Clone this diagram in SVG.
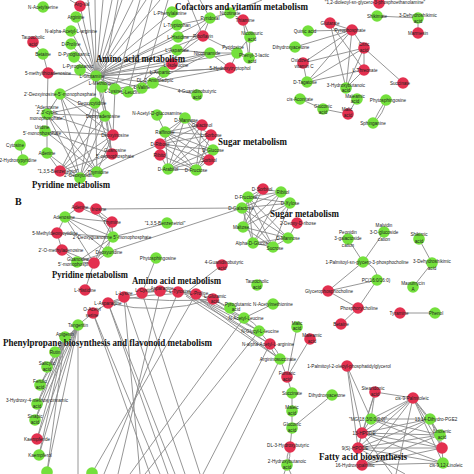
<svg xmlns="http://www.w3.org/2000/svg" width="474" height="474" viewBox="0 0 474 474">
<style>
.g{fill:#74e03c}.r{fill:#e3304f}
.e path{stroke:#8a8a8a;stroke-width:.9;fill:none}
.l{font-family:"Liberation Sans",Arial,sans-serif;font-size:4.6px;fill:#222;text-anchor:middle}
.t{font-family:"Liberation Serif","Times New Roman",serif;font-size:10px;font-weight:bold;fill:#111}
</style>
<rect width="474" height="474" fill="#fff"/>
<g id="connectors" class="e">
<path d="M96 76L88 0M96 76L95 0M96 76L103 0M96 76L112 0M96 76L122 0M96 76L133 0M96 76L146 0M96 76L160 0M102 87L118 0M115 89L140 0M128 92L152 0M80 6L70 0M142 88L168 0"/>
<path d="M80 6L96 76M76 17L96 76M71 31L96 76M71 44L96 76M74 57L96 76M80 70L96 76M48 73L96 76M60 94L96 76"/>
<path d="M96 76L172 12M96 76L177 25M96 76L178 37M96 76L177 50M96 76L172 64M96 76L164 72M96 76L210 18M96 76L203 36M96 76L210 53M96 76L230 68"/>
<path d="M102 87L210 53M115 89L230 68M128 92L203 36M142 88L210 53M153 83L210 18M164 72L230 68M172 64L237 53"/>
<path d="M102 87Q108 90 115 89M115 89Q122 92 128 92M128 92Q136 91 142 88M142 88Q148 86 153 83M153 83Q159 78 164 72M96 76L102 87M96 76L115 89M96 76L128 92M96 76L142 88M96 76L153 83M153 83L197 95"/>
<path d="M33 42L43 54M43 54L48 73M177 25L210 18M178 37L203 36M177 50L210 53"/>
<path d="M210 18L230 13M210 18L203 36M230 13L243 20M203 36L237 53M210 53L237 53M210 53L230 68M237 53L230 68M243 20L250 37M250 37L249 58M243 20L249 58M237 53L250 37M230 13L262 0M210 18L200 0M203 36L188 0"/>
<path d="M96 76L95 103M96 76L105 116M96 76L113 135M102 87L112 154M115 89L113 135M60 94L47 114M60 94L80 178M60 94L97 172M60 94L113 135M60 94L105 116M48 73L47 114"/>
<path d="M95 103L80 178M95 103L97 172M95 103L112 154M95 103L60 171M105 116L60 171M105 116L80 178M105 116L112 154M105 116L47 114M47 114L113 135M47 114L80 178M47 114L97 172M45 131L97 172M45 131L112 154M45 131L113 135M113 135L60 171M113 135L80 178M113 135L97 172M112 154L60 171M112 154L80 178M60 171L80 178M80 178L97 172M47 153L47 114M47 153L80 178M47 153L60 171M20 145L23 160M95 103L47 114M97 172L160 144"/>
<path d="M157 115L165 132M185 118L165 132M185 118L202 125M185 118L211 135M185 118L213 150M185 118L209 160M185 118L168 169M202 125L165 132M202 125L160 144M202 125L168 169M202 125L196 170M165 132L211 135M165 132L213 150M165 132L209 160M165 132L196 170M211 135L160 144M211 135L168 169M211 135L196 170M160 144L160 155M160 144L213 150M160 144L209 160M160 144L196 170M160 155L168 169M160 155L196 170M213 150L168 169M213 150L196 170M209 160L168 169M209 160L196 170M168 169L196 170M185 118L160 144M165 132L168 169"/>
<path d="M308 31L352 30M330 23L352 30M330 23L346 88M330 23L364 70M352 30L295 47M352 30L307 82M352 30L303 63M364 48L352 30M364 48L303 63M364 48L307 82M364 48L364 70M364 48L403 83M364 48L346 88M303 63L307 82M307 82L364 70M346 88L352 30M346 88L364 70M300 99L323 109M323 109L348 114M357 99L348 114M386 100Q378 112 373 123M386 100Q384 114 373 123M377 16L418 18M418 18L418 33"/>
<path d="M79 207L96 209M79 207L65 217M65 217L112 222M65 217L113 237M65 217L108 252M65 217L94 263M96 209L112 222M96 209L113 237M112 222L113 237M112 222L94 263M112 222L108 252M57 233L62 250M57 233L65 217M57 233L113 237M62 250L77 262M62 250L94 263M77 262L94 263M113 237L94 263M113 237L77 262M108 252L94 263M94 263L85 290M113 237L167 223M96 209L242 208M108 252L242 208M79 207L112 222M77 262L108 252"/>
<path d="M263 189L281 192M263 189L248 197M263 189L242 208M263 189L243 227M281 192L248 197M281 192L242 208M281 192L243 227M281 192L253 243M248 197L290 203M248 197L243 227M248 197L273 247M248 197L288 238M290 203L242 208M290 203L243 227M290 203L253 243M290 203L273 247M242 208L273 247M242 208L288 238M243 227L273 247M243 227L288 238M253 243L288 238M273 247L288 238M253 243L273 247M288 238L297 223M242 208L253 243M248 197L253 243"/>
<path d="M348 239L363 262M384 232L363 262M363 262Q378 266 377 280M363 262L328 291M377 280L328 291M377 280L358 308M328 291L358 308M358 308L341 324M419 239L432 263M432 263L413 287M400 313L435 313"/>
<path d="M108 303L124 297M124 297L142 293M142 293L160 291M160 291L178 292M178 292L196 294M196 294L213 299M108 303Q160 316 213 299M108 303Q150 292 196 294M124 297Q170 303 213 299M93 313L108 303M156 258L142 293M222 265L187 292M213 299L230 308"/>
<path d="M190 295L244 318M192 295L259 331M194 296L270 344M196 297L280 359M185 294L270 344M213 299L244 318M205 297L259 331M186 296L280 359"/>
<path d="M273 304L244 318M244 318Q256 322 259 331M259 331L270 344M270 344Q278 350 280 359M270 344Q272 353 280 359M280 359L287 377M287 377L292 393M292 393L292 411M292 411L292 428M292 428L290 447M290 447Q286 456 287 465M290 447Q291 457 287 465M332 395L292 428M297 327L287 377M310 339L287 377M270 344L203 474M280 359L223 474M287 465L284 474M287 465L291 474"/>
<path d="M78 325L78 474M55 352L78 325M47 367L78 325M40 385L78 325M37 404L78 325M35 420L78 325M37 439L78 325M39 455L78 325M47 472L78 325M47 367L65 337M40 385L65 337M37 404L65 337M35 420L65 337M37 439L65 337M39 455L65 337M47 472L65 337M78 325L93 313"/>
<path d="M93 313L160 474M93 313L150 474M108 303L175 474M108 303L168 474M124 297L185 474M124 297L140 474M196 294L92 473M178 292L104 474M244 318L130 474M259 331L145 474M160 291L118 474M142 293L200 474"/>
<path d="M347 366L371 419M347 366L362 433M347 366L358 448M375 392L413 398M375 392L371 419M375 392L362 433M375 392L358 448M413 398L371 419M413 398L430 419M413 398L362 433M413 398L440 435M413 398L358 448M413 398L442 448M413 398L362 465M413 398L443 463M371 419L430 419M371 419L362 433M371 419L440 435M371 419L442 448M430 419L362 433M430 419L440 435M430 419L358 448M430 419L442 448M430 419L362 465M362 433L440 435M362 433L442 448M362 433L443 463M362 433L358 448M440 435L358 448M440 435L442 448M358 448L442 448M358 448L443 463M442 448L362 465M442 448L443 463M362 465L443 463M362 465L440 435M362 433L392 474M358 448L405 474M413 398L396 474"/>
</g>
<g id="a1"><circle class="g" cx="43" cy="7" r="5.8"/><text class="l" x="43" y="8.6">N-Acetylserine</text></g>
<g id="a2"><circle class="r" cx="80" cy="6" r="5.8"/><text class="l" x="82" y="5.6">Arg-Val</text></g>
<g id="a3"><circle class="g" cx="76" cy="17" r="5.8"/><text class="l" x="76" y="18.6">Arginine</text></g>
<g id="a4"><circle class="g" cx="71" cy="31" r="5.8"/><text class="l" x="71" y="32.6">N-alpha-Acetyl-L-arginine</text></g>
<g id="a5"><circle class="r" cx="33" cy="42" r="5.8"/><text class="l" x="33" y="39"><tspan x="33">Taurocholic</tspan><tspan x="33" dy="6.5">acid</tspan></text></g>
<g id="a6"><circle class="g" cx="71" cy="44" r="5.8"/><text class="l" x="71" y="45.6">D-Proline</text></g>
<g id="a7"><circle class="g" cx="43" cy="54" r="5.8"/><text class="l" x="43" y="55.6">Betaine</text></g>
<g id="a8"><circle class="g" cx="74" cy="57" r="5.8"/><text class="l" x="74" y="55.6">D-Pyroglutamic</text></g>
<g id="a9"><circle class="g" cx="80" cy="70" r="5.8"/><text class="l" x="78" y="67.6">L-Pyroglutamic</text></g>
<g id="a10"><circle class="r" cx="48" cy="73" r="5.8"/><text class="l" x="48" y="74.6">5-methylthioadenosine</text></g>
<g id="a11"><circle class="g" cx="96" cy="76" r="5.8"/><text class="l" x="92" y="77.6">L-Glutamine</text></g>
<g id="a12"><circle class="g" cx="102" cy="87" r="5.8"/><text class="l" x="102" y="84.6">L-Methionine</text></g>
<g id="a13"><circle class="g" cx="115" cy="89" r="5.8"/><text class="l" x="113" y="92.6">L-Lysine</text></g>
<g id="a14"><circle class="g" cx="128" cy="92" r="5.8"/><text class="l" x="131" y="93.6">L-Leucine</text></g>
<g id="a15"><circle class="g" cx="142" cy="88" r="5.8"/><text class="l" x="142" y="88.6">L-Valine</text></g>
<g id="a16"><circle class="g" cx="153" cy="83" r="5.8"/><text class="l" x="155" y="81.6">DL-2-Aminoadipic</text></g>
<g id="a17"><circle class="g" cx="164" cy="72" r="5.8"/><text class="l" x="160" y="73.6">L-Aspartic</text></g>
<g id="a18"><circle class="r" cx="172" cy="64" r="5.8"/><text class="l" x="176" y="66.6">L-Isoleucine</text></g>
<g id="a19"><circle class="g" cx="177" cy="50" r="5.8"/><text class="l" x="177" y="51.6">L-Aspartate</text></g>
<g id="a20"><circle class="g" cx="178" cy="37" r="5.8"/><text class="l" x="178" y="38.6">L-Histidine</text></g>
<g id="a21"><circle class="g" cx="177" cy="25" r="5.8"/><text class="l" x="177" y="26.6">L-Tryptophan</text></g>
<g id="a22"><circle class="g" cx="172" cy="12" r="5.8"/><text class="l" x="170" y="14.6">L-Phenylalanine</text></g>
<g id="a23"><circle class="g" cx="197" cy="95" r="5.8"/><text class="l" x="197" y="93"><tspan x="197">4-Guanidinobutyric</tspan><tspan x="197" dy="5.5">acid</tspan></text></g>
<g id="a24"><circle class="g" cx="60" cy="94" r="5.8"/><text class="l" x="60" y="95.6">2'-Deoxyinosine-5'-monophosphate</text></g>
<g id="c1"><circle class="g" cx="210" cy="18" r="5.8"/><text class="l" x="210" y="19.6">Pyridoxal</text></g>
<g id="c2"><circle class="g" cx="230" cy="13" r="5.8"/><text class="l" x="230" y="14.6">Nicotinate</text></g>
<g id="c3"><circle class="r" cx="203" cy="36" r="5.8"/><text class="l" x="203" y="37.6">Riboflavin</text></g>
<g id="c4"><circle class="g" cx="210" cy="53" r="5.8"/><text class="l" x="207" y="54.6">Nicotinamide</text></g>
<g id="c5"><circle class="g" cx="237" cy="53" r="5.8"/><text class="l" x="233" y="49">Pyridoxine</text></g>
<g id="c6"><circle class="r" cx="230" cy="68" r="5.8"/><text class="l" x="230" y="69.6">5-Hydroxytryptophol</text></g>
<g id="c7"><circle class="r" cx="243" cy="20" r="5.8"/><text class="l" x="245" y="21.6">Thiamine</text></g>
<g id="c8"><circle class="g" cx="250" cy="37" r="5.8"/><text class="l" x="252" y="35"><tspan x="252">Nicotinuric</tspan><tspan x="252" dy="5.5">acid</tspan></text></g>
<g id="c9"><circle class="g" cx="249" cy="58" r="5.8"/><text class="l" x="254" y="57"><tspan x="254">Phenyl-3-lactic</tspan><tspan x="252" dy="5.5">acid</tspan></text></g>
<g id="p1"><circle class="g" cx="95" cy="103" r="5.8"/><text class="l" x="92" y="104.6">Deoxycytidine</text></g>
<g id="p2"><circle class="g" cx="105" cy="116" r="5.8"/><text class="l" x="103" y="117.6">Deoxyadenosine</text></g>
<g id="p3"><circle class="g" cx="47" cy="114" r="5.8"/><text class="l" x="47" y="108.5"><tspan x="47">"Adenosine</tspan><tspan x="47" dy="5.5">2',3'-cyclic</tspan><tspan x="47" dy="5.5">monophosphate"</tspan></text></g>
<g id="p4"><circle class="g" cx="45" cy="131" r="5.8"/><text class="l" x="42" y="129"><tspan x="42">Uridine</tspan><tspan x="42" dy="5.5">5'-monophosphate</tspan></text></g>
<g id="p5"><circle class="r" cx="113" cy="135" r="5.8"/><text class="l" x="115" y="136.6">Deoxyinosine</text></g>
<g id="p6"><circle class="g" cx="20" cy="145" r="5.8"/><text class="l" x="15" y="146.6">Cytosine</text></g>
<g id="p7"><circle class="g" cx="23" cy="160" r="5.8"/><text class="l" x="18" y="161.6">2-Hydroxypyridine</text></g>
<g id="p8"><circle class="g" cx="47" cy="153" r="5.8"/><text class="l" x="47" y="154.6">Adenine</text></g>
<g id="p9"><circle class="r" cx="112" cy="154" r="5.8"/><text class="l" x="115" y="152"><tspan x="115">Guanosine</tspan><tspan x="115" dy="5.5">5'-monophosphate</tspan></text></g>
<g id="p10"><circle class="r" cx="60" cy="171" r="5.8"/><text class="l" x="58" y="172.6">"1,3,5-Benzenetriol"</text></g>
<g id="p11"><circle class="g" cx="80" cy="178" r="5.8"/><text class="l" x="80" y="177">2'-Deoxyuridine</text></g>
<g id="p12"><circle class="g" cx="97" cy="172" r="5.8"/><text class="l" x="98" y="173.6">Thymidine</text></g>
<g id="s1"><circle class="g" cx="157" cy="115" r="5.8"/><text class="l" x="157" y="114.6">N-Acetyl-D-glucosamine</text></g>
<g id="s2"><circle class="g" cx="185" cy="118" r="5.8"/><text class="l" x="186" y="121.6">D-Mannose</text></g>
<g id="s3"><circle class="r" cx="202" cy="125" r="5.8"/><text class="l" x="202" y="126.6">Galactinol</text></g>
<g id="s4"><circle class="g" cx="165" cy="132" r="5.8"/><text class="l" x="165" y="133.6">Raffinose</text></g>
<g id="s5"><circle class="r" cx="211" cy="135" r="5.8"/><text class="l" x="211" y="136.6">L-Sorbose</text></g>
<g id="s6"><circle class="r" cx="160" cy="144" r="5.8"/><text class="l" x="160" y="145.6">D-Ribose</text></g>
<g id="s7"><circle class="r" cx="160" cy="155" r="5.8"/><text class="l" x="160" y="156.6">Ribitol</text></g>
<g id="s8"><circle class="g" cx="213" cy="150" r="5.8"/><text class="l" x="213" y="151.6">D-Glucose</text></g>
<g id="s9"><circle class="r" cx="209" cy="160" r="5.8"/><text class="l" x="209" y="161.6">Sorbitol</text></g>
<g id="s10"><circle class="g" cx="168" cy="169" r="5.8"/><text class="l" x="168" y="170.6">D-Arabitol</text></g>
<g id="s11"><circle class="g" cx="196" cy="170" r="5.8"/><text class="l" x="196" y="171.6">D-Fructose</text></g>
<g id="r1"><circle class="r" cx="330" cy="23" r="5.8"/><text class="l" x="330" y="24.6">Glutarate</text></g>
<g id="r2"><circle class="r" cx="352" cy="30" r="5.8"/><text class="l" x="350" y="31.6">Pyrophosphate</text></g>
<g id="r3"><circle class="g" cx="308" cy="31" r="5.8"/><text class="l" x="305" y="32.6">Quinic acid</text></g>
<g id="r4"><circle class="g" cx="295" cy="47" r="5.8"/><text class="l" x="291" y="48.6">Dihydroxyacetone</text></g>
<g id="r5"><circle class="r" cx="364" cy="48" r="5.8"/><text class="l" x="364" y="46"><tspan x="364">Citric</tspan><tspan x="364" dy="5.5">acid</tspan></text></g>
<g id="r6"><circle class="r" cx="303" cy="63" r="5.8"/><text class="l" x="303" y="62"><tspan x="300">Oxidized</tspan><tspan x="304" dy="6">vitamin C</tspan></text></g>
<g id="r7"><circle class="r" cx="364" cy="70" r="5.8"/><text class="l" x="365" y="71.6">L-Threonate</text></g>
<g id="r8"><circle class="g" cx="307" cy="82" r="5.8"/><text class="l" x="305" y="83.6">D-Tagatose</text></g>
<g id="r9"><circle class="g" cx="346" cy="88" r="5.8"/><text class="l" x="346" y="86.5"><tspan x="346">3-Hydroxybutanoic</tspan><tspan x="346" dy="5.5">acid</tspan></text></g>
<g id="r10"><circle class="r" cx="403" cy="83" r="5.8"/><text class="l" x="400" y="84.6">Succinate</text></g>
<g id="r11"><circle class="g" cx="300" cy="99" r="5.8"/><text class="l" x="300" y="100.6">cis-Aconitate</text></g>
<g id="r12"><circle class="g" cx="323" cy="109" r="5.8"/><text class="l" x="323" y="108"><tspan x="323">Gluconic</tspan><tspan x="323" dy="5.5">acid</tspan></text></g>
<g id="r13"><circle class="g" cx="357" cy="99" r="5.8"/><text class="l" x="355" y="97.5"><tspan x="355">Maleamic</tspan><tspan x="355" dy="5.5">acid</tspan></text></g>
<g id="r14"><circle class="r" cx="348" cy="114" r="5.8"/><text class="l" x="348" y="111"><tspan x="347">Malic</tspan><tspan x="348" dy="5.5">acid</tspan></text></g>
<g id="r15"><circle class="g" cx="386" cy="100" r="5.8"/><text class="l" x="388" y="101.6">Phytosphingosine</text></g>
<g id="r16"><circle class="g" cx="373" cy="123" r="5.8"/><text class="l" x="373" y="124.6">Sphinganine</text></g>
<g id="t1"><circle class="r" cx="379" cy="3" r="5.8"/><text class="l" x="375" y="3.6">"1,2-dioleoyl-sn-glycero-3-phosphoethanolamine"</text></g>
<g id="t2"><circle class="g" cx="377" cy="16" r="5.8"/><text class="l" x="377" y="17.6">Shikimate</text></g>
<g id="t3"><circle class="g" cx="418" cy="18" r="5.8"/><text class="l" x="418" y="17"><tspan x="418">3-Dehydroshikimic</tspan><tspan x="418" dy="5.5">acid</tspan></text></g>
<g id="t4"><circle class="r" cx="418" cy="33" r="5.8"/><text class="l" x="418" y="34.6">Marmesin</text></g>
<g id="b1"><circle class="r" cx="79" cy="207" r="5.8"/><text class="l" x="80" y="208.6">Adenine</text></g>
<g id="b2"><circle class="r" cx="96" cy="209" r="5.8"/><text class="l" x="99" y="210.6">Inosine</text></g>
<g id="b3"><circle class="g" cx="65" cy="217" r="5.8"/><text class="l" x="64" y="218.6">Adenosine</text></g>
<g id="b4"><circle class="r" cx="112" cy="222" r="5.8"/><text class="l" x="112" y="223.6">Thymine</text></g>
<g id="b5"><circle class="g" cx="167" cy="223" r="5.8"/><text class="l" x="165" y="224.6">"1,3,5-Benzenetriol"</text></g>
<g id="b6"><circle class="r" cx="57" cy="233" r="5.8"/><text class="l" x="55" y="234.6">5-Methyldeoxycytidine</text></g>
<g id="b7"><circle class="g" cx="113" cy="237" r="5.8"/><text class="l" x="112" y="238.6">2'-Deoxyguanosine 5'-monophosphate</text></g>
<g id="b8"><circle class="r" cx="62" cy="250" r="5.8"/><text class="l" x="61" y="251.6">2'-O-methyladenosine</text></g>
<g id="b9"><circle class="g" cx="108" cy="252" r="5.8"/><text class="l" x="109" y="253.6">Deoxyuridine</text></g>
<g id="b10"><circle class="g" cx="77" cy="262" r="5.8"/><text class="l" x="77" y="260.5"><tspan x="78">Guanosine</tspan><tspan x="77" dy="5.5">5'-monophosphate</tspan></text></g>
<g id="b11"><circle class="r" cx="94" cy="263" r="5.8"/></g>
<g id="b12"><circle class="r" cx="85" cy="290" r="5.8"/><text class="l" x="85" y="291.6">L-Histidine</text></g>
<g id="sb1"><circle class="r" cx="263" cy="189" r="5.8"/><text class="l" x="262" y="190.6">D-Sorbitol</text></g>
<g id="sb2"><circle class="g" cx="281" cy="192" r="5.8"/><text class="l" x="283" y="193.6">Ribitol</text></g>
<g id="sb3"><circle class="g" cx="248" cy="197" r="5.8"/><text class="l" x="246" y="198.6">D-Fructose</text></g>
<g id="sb4"><circle class="g" cx="290" cy="203" r="5.8"/><text class="l" x="290" y="204.6">D-Xylose</text></g>
<g id="sb5"><circle class="g" cx="242" cy="208" r="5.8"/><text class="l" x="241" y="209.6">D-Galactose</text></g>
<g id="sb8"><circle class="g" cx="243" cy="227" r="5.8"/><text class="l" x="241" y="228.6">Maltose</text></g>
<g id="sb9"><circle class="g" cx="253" cy="243" r="5.8"/><text class="l" x="253" y="244.6">Alpha-D-Glucose</text></g>
<g id="sb10"><circle class="g" cx="273" cy="247" r="5.8"/><text class="l" x="275" y="250">Sucrose</text></g>
<g id="sb11"><circle class="g" cx="288" cy="238" r="5.8"/><text class="l" x="288" y="239.6">D-Mannose</text></g>
<g id="sb12"><circle class="r" cx="297" cy="223" r="5.8"/><text class="l" x="298" y="224.6">2-Deoxy-D-ribose</text></g>
<g id="l1"><circle class="g" cx="348" cy="239" r="5.8"/><text class="l" x="348" y="233.5"><tspan x="348">Peonidin</tspan><tspan x="348" dy="6.5">3-galactoside</tspan><tspan x="348" dy="6.5">cation</tspan></text></g>
<g id="l2"><circle class="g" cx="384" cy="232" r="5.8"/><text class="l" x="384" y="227"><tspan x="384">Malvidin</tspan><tspan x="384" dy="7">3-O-glucoside</tspan><tspan x="384" dy="7">cation</tspan></text></g>
<g id="l3"><circle class="g" cx="419" cy="239" r="5.8"/><text class="l" x="419" y="236"><tspan x="419">Shikimic</tspan><tspan x="419" dy="6.5">acid</tspan></text></g>
<g id="l4"><circle class="g" cx="363" cy="262" r="5.8"/><text class="l" x="367" y="263.6">1-Palmitoyl-sn-glycero-3-phosphocholine</text></g>
<g id="l5"><circle class="g" cx="432" cy="263" r="5.8"/><text class="l" x="432" y="263"><tspan x="432">3-Dehydroshikimic</tspan><tspan x="432" dy="6.5">acid</tspan></text></g>
<g id="l6"><circle class="g" cx="377" cy="280" r="5.8"/><text class="l" x="376" y="281.6">PC(16:0/16:0)</text></g>
<g id="l7"><circle class="g" cx="413" cy="287" r="5.8"/><text class="l" x="413" y="284.5"><tspan x="413">Manumycin</tspan><tspan x="413" dy="6.5">A</tspan></text></g>
<g id="l8"><circle class="r" cx="328" cy="291" r="5.8"/><text class="l" x="329" y="292.6">Glycerophosphocholine</text></g>
<g id="l9"><circle class="r" cx="358" cy="308" r="5.8"/><text class="l" x="359" y="309.6">Phosphorylcholine</text></g>
<g id="l10"><circle class="r" cx="341" cy="324" r="5.8"/><text class="l" x="341" y="325.6">Betaine</text></g>
<g id="l11"><circle class="r" cx="400" cy="313" r="5.8"/><text class="l" x="399" y="314.6">Tyramine</text></g>
<g id="l12"><circle class="g" cx="435" cy="313" r="5.8"/><text class="l" x="436" y="314.6">Phenol</text></g>
<g id="m1"><circle class="r" cx="108" cy="303" r="5.8"/><text class="l" x="108" y="304.6">L-Asparagine</text></g>
<g id="m2"><circle class="r" cx="124" cy="297" r="5.8"/><text class="l" x="124" y="295">L-Lysine</text></g>
<g id="m3"><circle class="r" cx="142" cy="293" r="5.8"/><text class="l" x="145" y="292">L-Cystine</text></g>
<g id="m4"><circle class="r" cx="160" cy="291" r="5.8"/><text class="l" x="162" y="289.5">Asparagine</text></g>
<g id="m5"><circle class="r" cx="178" cy="292" r="5.8"/><text class="l" x="180" y="293">L-Tyrosine</text></g>
<g id="m6"><circle class="r" cx="196" cy="294" r="5.8"/><text class="l" x="199" y="295">L-Proline</text></g>
<g id="m7"><circle class="r" cx="213" cy="299" r="5.8"/><text class="l" x="215" y="297.5"><tspan x="215">L-Glutamic</tspan><tspan x="215" dy="5.5">acid</tspan></text></g>
<g id="m8"><circle class="r" cx="93" cy="313" r="5.8"/><text class="l" x="92" y="311"><tspan x="92">O-Acetyl</tspan><tspan x="92" dy="5.5">serine</tspan></text></g>
<g id="m9"><circle class="g" cx="230" cy="308" r="5.8"/><text class="l" x="238" y="305.5"><tspan x="238">Pyroglutamic</tspan><tspan x="236" dy="5.5">acid</tspan></text></g>
<g id="m10"><circle class="r" cx="222" cy="265" r="5.8"/><text class="l" x="224" y="263.5"><tspan x="224">4-Guanidinobutyric</tspan><tspan x="222" dy="6">acid</tspan></text></g>
<g id="m11"><circle class="g" cx="156" cy="258" r="5.8"/><text class="l" x="158" y="259.6">Phytosphingosine</text></g>
<g id="m12"><circle class="g" cx="257" cy="285" r="5.8"/><text class="l" x="257" y="283"><tspan x="257">Taurocholic</tspan><tspan x="257" dy="6">acid</tspan></text></g>
<g id="m13"><circle class="g" cx="273" cy="304" r="5.8"/><text class="l" x="273" y="305.6">N-Acetylmethionine</text></g>
<g id="m14"><circle class="g" cx="244" cy="318" r="5.8"/><text class="l" x="246" y="319.6">N-Acetyl-Leucine</text></g>
<g id="m15"><circle class="g" cx="259" cy="331" r="5.8"/><text class="l" x="260" y="332.6">N-Glycyl-L-leucine</text></g>
<g id="m16"><circle class="r" cx="270" cy="344" r="5.8"/><text class="l" x="268" y="345.6">N-alpha-Acetyl-L-arginine</text></g>
<g id="m17"><circle class="g" cx="280" cy="359" r="5.8"/><text class="l" x="278" y="360.6">Argininosuccinate</text></g>
<g id="m18"><circle class="r" cx="287" cy="377" r="5.8"/><text class="l" x="287" y="375"><tspan x="287">Fumaric</tspan><tspan x="287" dy="5.5">acid</tspan></text></g>
<g id="m19"><circle class="g" cx="292" cy="393" r="5.8"/><text class="l" x="292" y="394.6">Succinate</text></g>
<g id="m20"><circle class="g" cx="292" cy="411" r="5.8"/><text class="l" x="292" y="409"><tspan x="292">Maleic</tspan><tspan x="292" dy="5.5">acid</tspan></text></g>
<g id="m21"><circle class="g" cx="292" cy="428" r="5.8"/><text class="l" x="292" y="426"><tspan x="292">Gluconic</tspan><tspan x="292" dy="5.5">acid</tspan></text></g>
<g id="m22"><circle class="r" cx="290" cy="447" r="5.8"/><text class="l" x="288" y="447">DL-3-Hydroxybutyric</text></g>
<g id="m23"><circle class="g" cx="287" cy="465" r="5.8"/><text class="l" x="287" y="463"><tspan x="287">2-Hydroxybutanoic</tspan><tspan x="287" dy="5.5">acid</tspan></text></g>
<g id="m24"><circle class="g" cx="332" cy="395" r="5.8"/><text class="l" x="327" y="396.6">Dihydroxyacetone</text></g>
<g id="m25"><circle class="g" cx="297" cy="327" r="5.8"/><text class="l" x="297" y="325"><tspan x="297">Malic</tspan><tspan x="297" dy="5">acid</tspan></text></g>
<g id="m26"><circle class="r" cx="310" cy="339" r="5.8"/><text class="l" x="312" y="337"><tspan x="312">Maleamic</tspan><tspan x="312" dy="5.5">acid</tspan></text></g>
<g id="f1"><circle class="r" cx="347" cy="366" r="5.8"/><text class="l" x="349" y="367.6">1-Palmitoyl-2-oleoyl-phosphatidylglycerol</text></g>
<g id="f2"><circle class="r" cx="375" cy="392" r="5.8"/><text class="l" x="373" y="390"><tspan x="373">Stearidonic</tspan><tspan x="375" dy="5.5">acid</tspan></text></g>
<g id="f3"><circle class="r" cx="413" cy="398" r="5.8"/><text class="l" x="412" y="399.6">cis-9-Palmitoleic</text></g>
<g id="f4"><circle class="g" cx="371" cy="419" r="5.8"/><text class="l" x="368" y="420.6">"MG(18:3/0:0/0:0)"</text></g>
<g id="f5"><circle class="g" cx="430" cy="419" r="5.8"/><text class="l" x="436" y="420.6">13,14-Dihydro-PGE2</text></g>
<g id="f6"><circle class="r" cx="362" cy="433" r="5.8"/><text class="l" x="364" y="434.6">13-HPODE</text></g>
<g id="f7"><circle class="g" cx="440" cy="435" r="5.8"/><text class="l" x="442" y="433"><tspan x="442">Linolenic</tspan><tspan x="442" dy="5.5">acid</tspan></text></g>
<g id="f8"><circle class="r" cx="358" cy="448" r="5.8"/><text class="l" x="355" y="449.6">9(S)-HPODE</text></g>
<g id="f9"><circle class="r" cx="442" cy="448" r="5.8"/></g>
<g id="f10"><circle class="r" cx="362" cy="465" r="5.8"/><text class="l" x="355" y="466.6">16-Hydroxypalmitic</text></g>
<g id="f11"><circle class="g" cx="443" cy="463" r="5.8"/><text class="l" x="446" y="467">cis-9,12-Linoleic</text></g>
<g id="ph1"><circle class="g" cx="78" cy="325" r="5.8"/><text class="l" x="78" y="326.6">Tangeritin</text></g>
<g id="ph2"><circle class="g" cx="65" cy="337" r="5.8"/><text class="l" x="65" y="336">Apigenin</text></g>
<g id="ph3"><circle class="g" cx="55" cy="352" r="5.8"/><text class="l" x="55" y="353.6">Rutin</text></g>
<g id="ph4"><circle class="g" cx="47" cy="367" r="5.8"/><text class="l" x="47" y="365"><tspan x="47">Salicylic</tspan><tspan x="47" dy="5.5">acid</tspan></text></g>
<g id="ph5"><circle class="g" cx="40" cy="385" r="5.8"/><text class="l" x="40" y="383"><tspan x="40">Ferulic</tspan><tspan x="40" dy="5.5">acid</tspan></text></g>
<g id="ph6"><circle class="g" cx="37" cy="404" r="5.8"/><text class="l" x="37" y="401.5"><tspan x="37">3-Hydroxy-4-methoxycinnamic</tspan><tspan x="37" dy="6">acid</tspan></text></g>
<g id="ph7"><circle class="g" cx="35" cy="420" r="5.8"/><text class="l" x="35" y="418"><tspan x="35">Sinapic</tspan><tspan x="35" dy="5.5">acid</tspan></text></g>
<g id="ph8"><circle class="r" cx="37" cy="439" r="5.8"/><text class="l" x="37" y="440.6">Kaempferide</text></g>
<g id="ph9"><circle class="g" cx="39" cy="455" r="5.8"/><text class="l" x="40" y="456.6">Kaempferol</text></g>
<g id="ph10"><circle class="g" cx="47" cy="472" r="5.8"/></g>
<g id="ph11"><circle class="g" cx="92" cy="473" r="5.8"/></g>
<g id="titles">
<text class="t" x="175" y="10" textLength="133" lengthAdjust="spacingAndGlyphs">Cofactors and vitamin metabolism</text>
<text class="t" x="96" y="62" textLength="89" lengthAdjust="spacingAndGlyphs">Amino acid metabolism</text>
<text class="t" x="218" y="145" textLength="69" lengthAdjust="spacingAndGlyphs">Sugar metabolism</text>
<text class="t" x="32" y="188" textLength="78" lengthAdjust="spacingAndGlyphs">Pyridine metabolism</text>
<text class="t" x="15" y="205">B</text>
<text class="t" x="270" y="217" textLength="69" lengthAdjust="spacingAndGlyphs">Sugar metabolism</text>
<text class="t" x="52" y="278" textLength="76" lengthAdjust="spacingAndGlyphs">Pyridine metabolism</text>
<text class="t" x="132" y="284" textLength="89" lengthAdjust="spacingAndGlyphs">Amino acid metabolism</text>
<text class="t" x="3" y="346" textLength="209" lengthAdjust="spacingAndGlyphs">Phenylpropane biosynthesis and flavonoid metabolism</text>
<text class="t" x="319" y="460" textLength="88" lengthAdjust="spacingAndGlyphs">Fatty acid biosynthesis</text>
</g>
</svg>
